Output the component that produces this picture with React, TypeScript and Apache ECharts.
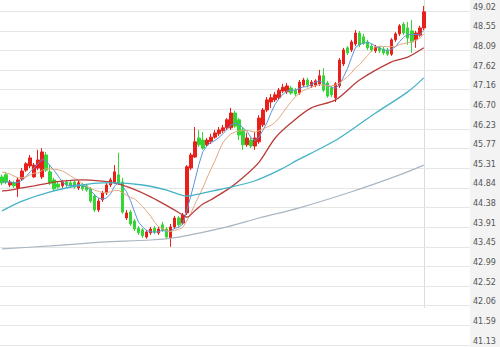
import React, { useEffect, useRef } from "react";
import * as echarts from "echarts";

// [open, close, low, high]
const candles: number[][] = [
  [45.10, 44.96, 44.91, 45.15], [45.15, 44.98, 44.93, 45.22], [44.91, 44.98, 44.86, 45.03], [44.96, 44.89, 44.84, 45.01],
  [44.84, 45.03, 44.63, 45.10], [45.05, 45.24, 45.01, 45.31], [45.26, 45.41, 45.22, 45.45], [45.36, 45.55, 45.31, 45.62],
  [45.10, 45.38, 45.08, 45.43], [45.31, 45.50, 45.26, 45.74], [45.10, 45.69, 45.05, 45.78], [45.62, 45.26, 45.22, 45.69],
  [45.22, 44.96, 44.91, 45.38], [45.03, 44.82, 44.77, 45.08], [44.93, 44.86, 44.82, 44.98], [44.89, 44.98, 44.84, 45.03],
  [44.98, 44.91, 44.86, 45.03], [44.96, 44.89, 44.84, 45.01], [44.98, 44.86, 44.82, 45.03], [44.84, 44.96, 44.79, 45.01],
  [44.91, 44.82, 44.77, 44.96], [44.89, 44.79, 44.75, 44.93], [44.82, 44.53, 44.49, 44.86], [44.65, 44.32, 44.27, 44.70],
  [44.32, 44.53, 44.27, 44.60], [44.56, 44.72, 44.51, 44.77], [44.72, 44.91, 44.67, 44.96], [44.91, 45.03, 44.86, 45.08],
  [44.98, 45.22, 44.93, 45.38], [45.15, 44.96, 44.91, 45.67], [44.98, 44.27, 44.23, 45.08], [44.13, 44.25, 44.08, 44.32],
  [44.27, 43.99, 43.94, 44.32], [44.06, 43.87, 43.82, 44.11], [43.89, 43.78, 43.73, 43.94], [43.85, 43.71, 43.66, 43.89],
  [43.68, 43.80, 43.64, 43.85], [43.78, 43.87, 43.73, 43.92], [43.89, 43.80, 43.75, 43.94], [43.78, 43.87, 43.73, 43.92],
  [43.97, 43.85, 43.80, 44.04], [43.87, 43.68, 43.64, 43.92], [43.66, 43.92, 43.45, 43.99], [43.92, 44.13, 43.87, 44.18],
  [44.13, 43.97, 43.92, 44.18], [44.01, 44.20, 43.97, 44.25], [44.25, 45.34, 44.20, 45.38], [45.31, 45.62, 45.26, 45.67],
  [45.57, 45.93, 45.55, 46.28], [46.02, 45.86, 45.81, 46.21], [45.97, 45.78, 45.74, 46.16], [45.86, 45.97, 45.81, 46.02],
  [45.93, 46.04, 45.88, 46.12], [46.04, 46.14, 46.00, 46.21], [46.12, 46.21, 46.07, 46.28], [46.19, 46.26, 46.14, 46.33],
  [46.26, 46.45, 46.21, 46.49], [46.26, 46.61, 46.21, 46.73], [46.61, 46.30, 46.26, 46.66], [46.45, 46.09, 45.97, 46.49],
  [46.21, 45.86, 45.74, 46.28], [45.86, 46.02, 45.81, 46.14], [45.97, 45.83, 45.78, 46.02], [45.83, 46.02, 45.74, 46.16],
  [45.93, 46.49, 45.88, 46.56], [46.33, 46.68, 46.28, 46.73], [46.68, 46.92, 46.63, 46.99], [46.87, 46.97, 46.73, 47.06],
  [46.92, 47.04, 46.87, 47.11], [46.97, 47.15, 46.92, 47.20], [47.13, 47.22, 47.08, 47.30], [47.11, 47.25, 47.06, 47.32],
  [47.20, 47.08, 47.04, 47.25], [47.15, 47.06, 47.01, 47.20], [47.08, 47.34, 47.04, 47.39], [47.27, 47.39, 47.22, 47.44],
  [47.39, 47.27, 47.22, 47.44], [47.25, 47.34, 47.20, 47.39], [47.27, 47.37, 47.22, 47.41], [47.30, 47.49, 47.25, 47.63],
  [47.49, 47.15, 47.11, 47.67], [47.32, 47.01, 46.97, 47.37], [47.20, 47.04, 46.99, 47.25], [46.97, 47.30, 46.87, 47.34],
  [47.25, 47.86, 47.20, 47.91], [47.77, 48.10, 47.72, 48.15], [48.15, 48.03, 47.98, 48.19], [48.10, 48.29, 48.05, 48.34],
  [48.24, 48.50, 48.19, 48.57], [48.50, 48.22, 48.17, 48.55], [48.41, 48.26, 48.22, 48.48], [48.29, 48.15, 48.10, 48.34],
  [48.19, 48.10, 48.05, 48.24], [48.08, 48.17, 48.03, 48.22], [48.15, 48.08, 48.03, 48.19], [48.12, 48.03, 47.98, 48.17],
  [48.10, 48.00, 47.96, 48.15], [48.00, 48.34, 47.96, 48.38], [48.34, 48.48, 48.29, 48.52], [48.48, 48.67, 48.43, 48.71],
  [48.71, 48.50, 48.45, 48.76], [48.62, 48.38, 48.22, 48.76], [48.55, 48.29, 48.03, 48.81], [48.34, 48.50, 48.15, 48.55],
  [48.45, 48.62, 48.41, 48.67], [48.62, 49.00, 48.57, 49.14],
];

const ma5 = [
  44.98, 44.98, 44.98, 44.96, 44.97, 45.02, 45.11, 45.22, 45.32, 45.42, 45.51, 45.48, 45.36, 45.25, 45.12, 44.98,
  44.91, 44.89, 44.90, 44.92, 44.89, 44.86, 44.79, 44.68, 44.60, 44.58, 44.60, 44.70, 44.88, 44.97, 44.88, 44.75,
  44.54, 44.27, 44.03, 43.92, 43.83, 43.81, 43.79, 43.81, 43.84, 43.81, 43.82, 43.89, 43.91, 43.98, 44.31, 44.65,
  45.01, 45.39, 45.70, 45.83, 45.92, 45.96, 46.03, 46.12, 46.22, 46.33, 46.37, 46.34, 46.26, 46.18, 46.02, 45.96,
  46.04, 46.21, 46.39, 46.62, 46.82, 46.95, 47.06, 47.13, 47.15, 47.15, 47.19, 47.23, 47.23, 47.28, 47.34, 47.37,
  47.32, 47.27, 47.21, 47.20, 47.27, 47.46, 47.66, 47.92, 48.16, 48.23, 48.26, 48.28, 48.25, 48.18, 48.15, 48.10,
  48.08, 48.12, 48.18, 48.30, 48.40, 48.47, 48.46, 48.47, 48.46, 48.56,
];

const ma10 = [
  45.22, 45.19, 45.17, 45.12, 45.08, 45.08, 45.10, 45.15, 45.19, 45.19, 45.26, 45.29, 45.29, 45.28, 45.27, 45.24,
  45.19, 45.13, 45.07, 45.02, 44.93, 44.88, 44.84, 44.79, 44.76, 44.73, 44.73, 44.75, 44.78, 44.78, 44.73, 44.67,
  44.62, 44.58, 44.50, 44.40, 44.29, 44.17, 44.03, 43.92, 43.88, 43.82, 43.81, 43.84, 43.86, 43.91, 44.06, 44.24,
  44.45, 44.65, 44.84, 45.07, 45.28, 45.48, 45.71, 45.91, 46.03, 46.12, 46.16, 46.19, 46.19, 46.20, 46.18, 46.16,
  46.19, 46.24, 46.28, 46.32, 46.39, 46.50, 46.63, 46.76, 46.88, 46.99, 47.07, 47.14, 47.18, 47.22, 47.25, 47.28,
  47.27, 47.25, 47.25, 47.27, 47.32, 47.39, 47.47, 47.56, 47.68, 47.75, 47.86, 47.97, 48.08, 48.17, 48.19, 48.18,
  48.18, 48.18, 48.18, 48.23, 48.25, 48.27, 48.29, 48.33, 48.38, 48.48,
];

// [candle index, value] read at points along the smooth averages
const ma20: number[][] = [
  [0, 44.77], [2, 44.79], [5, 44.84], [8, 44.89], [12, 44.96], [15, 45.00], [20, 45.03], [25, 45.00], [28, 44.96],
  [32, 44.84], [37, 44.63], [42, 44.37], [45, 44.20], [46, 44.15], [48, 44.30], [50, 44.46], [52, 44.56], [57, 44.86],
  [61, 45.17], [64, 45.45], [68, 46.02], [72, 46.38], [77, 46.73], [83, 46.92], [89, 47.39], [97, 47.82], [101, 47.93],
  [105, 48.15],
];

const ma60: number[][] = [
  [0, 44.30], [5, 44.53], [12, 44.75], [20, 44.91], [25, 44.96], [28, 44.96], [35, 44.91], [41, 44.79], [46, 44.65],
  [50, 44.72], [56, 44.84], [63, 45.01], [69, 45.26], [74, 45.52], [79, 45.76], [84, 46.02], [93, 46.61], [101, 47.11],
  [105, 47.44],
];

const ma120: number[][] = [
  [0, 43.40], [12, 43.47], [25, 43.56], [37, 43.61], [44, 43.68], [56, 43.92], [64, 44.13], [74, 44.37], [87, 44.75],
  [99, 45.15], [105, 45.38],
];

const yTicks = [
  41.13, 41.59, 42.06, 42.52, 42.99, 43.45, 43.91, 44.38, 44.84, 45.31, 45.77, 46.23, 46.70, 47.16, 47.62, 48.09,
  48.55, 49.02,
];

const EMPTY_SLOTS = 11;
const categories = Array.from({ length: candles.length + EMPTY_SLOTS }, (_, i) => String(i + 1));

const UP = "#e8201b";
const DOWN = "#33d633";

export default function App() {
  const ref = useRef<HTMLDivElement>(null);
  useEffect(() => {
    if (!ref.current) return;
    const chart = echarts.init(ref.current, undefined, { renderer: "svg" });
    const lineSeries = (name: string, data: any[], color: string, width: number, smooth: boolean | number) => ({
      name,
      type: "line",
      data,
      symbol: "none",
      showSymbol: false,
      smooth,
      connectNulls: true,
      lineStyle: { color, width },
      itemStyle: { color },
      z: 3,
      silent: true,
    });
    chart.setOption({
      animation: false,
      backgroundColor: "#ffffff",
      grid: { left: 0, right: 30, top: 11, bottom: 2, outerBoundsMode: "none", containLabel: false },
      xAxis: {
        type: "category",
        data: categories,
        boundaryGap: true,
        show: false,
      },
      yAxis: {
        type: "value",
        position: "right",
        min: 41.13,
        max: 49.02,
        axisLine: { show: false },
        axisTick: { show: false, customValues: yTicks },
        splitLine: { show: false },
        axisLabel: {
          customValues: yTicks,
          formatter: (v: number) => v.toFixed(2),
          color: "#555555",
          fontSize: 8,
          fontFamily: "DejaVu Sans",
          margin: 3,
          align: "left",
          verticalAlign: "bottom",
        },
      },
      graphic: [
        {
          type: "rect",
          left: 470,
          top: 0,
          shape: { width: 30, height: 347 },
          style: { fill: "#f3f3f3" },
          z: -10,
          silent: true,
        },
        {
          type: "line",
          shape: { x1: 424.5, y1: 0, x2: 424.5, y2: 308 },
          style: { stroke: "#dcdcdc", lineWidth: 1 },
          z: 0,
          silent: true,
        },
      ],
      series: [
        {
          name: "grid",
          type: "line",
          data: [],
          silent: true,
          z: 0,
          markLine: {
            silent: true,
            symbol: ["none", "none"],
            label: { show: false },
            z: 0,
            lineStyle: { color: "#e6e6e6", type: "solid", width: 1 },
            emphasis: { disabled: true },
            data: yTicks.map((v) => ({ yAxis: v })),
          },
        },
        {
          name: "K",
          type: "candlestick",
          data: candles,
          barWidth: 3,
          z: 2,
          itemStyle: {
            color: UP,
            color0: DOWN,
            borderColor: UP,
            borderColor0: DOWN,
            borderWidth: 1,
          },
        },
        lineSeries("MA5", ma5, "#5b95d8", 1, false),
        lineSeries("MA10", ma10, "#e3a982", 1, false),
        lineSeries("MA20", ma20, "#b73c3a", 1.3, 0.3),
        lineSeries("MA60", ma60, "#45b3c6", 1.3, 0.3),
        lineSeries("MA120", ma120, "#a9b6c3", 1.2, 0.3),
      ],
    });
    return () => chart.dispose();
  }, []);
  return (
    <div
      ref={ref}
      style={{ position: "absolute", left: 0, top: 0, width: 500, height: 347 }}
    />
  );
}
